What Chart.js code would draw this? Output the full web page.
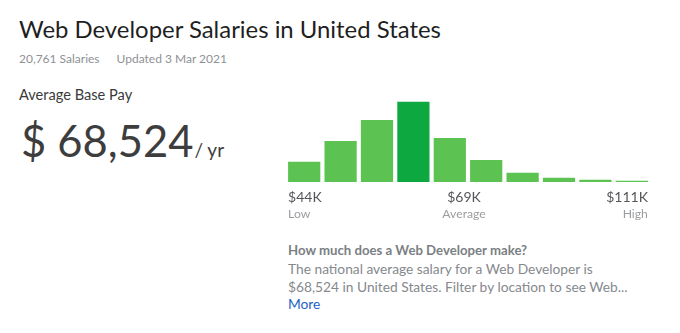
<!DOCTYPE html>
<html>
<head>
<meta charset="utf-8">
<script src="https://cdn.jsdelivr.net/npm/chart.js@4/dist/chart.umd.min.js"></script>
<style>
  html, body { margin: 0; padding: 0; background: #fff; }
  body { width: 680px; height: 333px; position: relative; overflow: hidden; font-family: Lato, "Open Sans", sans-serif; }
  .abs { position: absolute; white-space: nowrap; }
  #title { left: 19px; top: 14px; font-size: 23.9px; color: #1f1f1f; line-height: 30px; }
  #sub { left: 19px; top: 51px; font-size: 12px; color: #8e9195; line-height: 16px; }
  #sub span + span { margin-left: 17px; }
  #abp { left: 19px; top: 86px; font-size: 14.6px; color: #3a3a3a; line-height: 18px; }
  #pay { left: 21px; top: 113px; font-size: 43.5px; color: #3d3d3d; line-height: 54px; }
  #pay small { font-size: 19px; margin-left: 1px; }
  #chartbox { left: 286px; top: 96px; width: 364px; height: 128px; }
  #q { left: 288px; top: 241px; font-size: 13.2px; font-weight: bold; color: #7b7f83; line-height: 18px; }
  #desc { left: 288px; top: 260px; font-size: 13.75px; color: #85898d; line-height: 17.5px; white-space: normal; width: 380px; }
  #desc a { color: #1d62c4; text-decoration: none; }
</style>
</head>
<body>
<div class="abs" id="title">Web Developer Salaries in United States</div>
<div class="abs" id="sub"><span>20,761 Salaries</span><span>Updated 3 Mar 2021</span></div>
<div class="abs" id="abp">Average Base Pay</div>
<div class="abs" id="pay">$ 68,524<small>/ yr</small></div>
<div class="abs" id="chartbox"><canvas id="c"></canvas></div>
<div class="abs" id="q">How much does a Web Developer make?</div>
<div class="abs" id="desc">The national average salary for a Web Developer is<br>$68,524 in United States. Filter by location to see Web...<br><a href="#">More</a></div>
<script>
// Histogram bins (relative share of salaries)
const bins = ["b1","b2","b3","b4","b5","b6","b7","b8","b9","b10"];
const shares = [20.3, 41, 62, 80.3, 44, 22, 9.3, 4.3, 2.3, 1.3];
const highlightIndex = 3;
// Axis labels below the histogram
const tickValues = ["$44K", "$69K", "$111K"];
const tickNames = ["Low", "Average", "High"];
const tickPositions = [0, 0.489, 1]; // fraction along the span of the bars
const tickAligns = ["left", "center", "right"];

const lightGreen = "#5cc251";
const darkGreen = "#0da840";

const rangeLabels = {
  id: "rangeLabels",
  afterDraw(chart) {
    const { ctx, chartArea } = chart;
    const bars = chart.getDatasetMeta(0).data;
    const first = bars[0], last = bars[bars.length - 1];
    const left = first.x - first.width / 2;
    const right = last.x + last.width / 2;
    ctx.save();
    ctx.textBaseline = "alphabetic";
    tickPositions.forEach((p, i) => {
      const x = left + (right - left) * p;
      ctx.textAlign = tickAligns[i];
      ctx.font = "14px Lato";
      ctx.fillStyle = "#555659";
      ctx.fillText(tickValues[i], x, chartArea.bottom + 20);
      ctx.font = "12.2px Lato";
      ctx.fillStyle = "#9a9da0";
      ctx.fillText(tickNames[i], x, chartArea.bottom + 36);
    });
    ctx.restore();
  }
};

new Chart(document.getElementById("c"), {
  type: "bar",
  data: {
    labels: bins,
    datasets: [{
      data: shares,
      backgroundColor: shares.map((_, i) => i === highlightIndex ? darkGreen : lightGreen),
      borderWidth: 0,
      barPercentage: 0.885,
      categoryPercentage: 1.0
    }]
  },
  options: {
    responsive: true,
    maintainAspectRatio: false,
    animation: false,
    layout: { padding: { left: 0, right: 0, top: 0, bottom: 42 } },
    plugins: { legend: { display: false }, tooltip: { enabled: false } },
    scales: {
      x: { display: false, offset: true },
      y: { display: false, min: 0, max: 86 }
    }
  },
  plugins: [rangeLabels]
});
</script>
</body>
</html>
